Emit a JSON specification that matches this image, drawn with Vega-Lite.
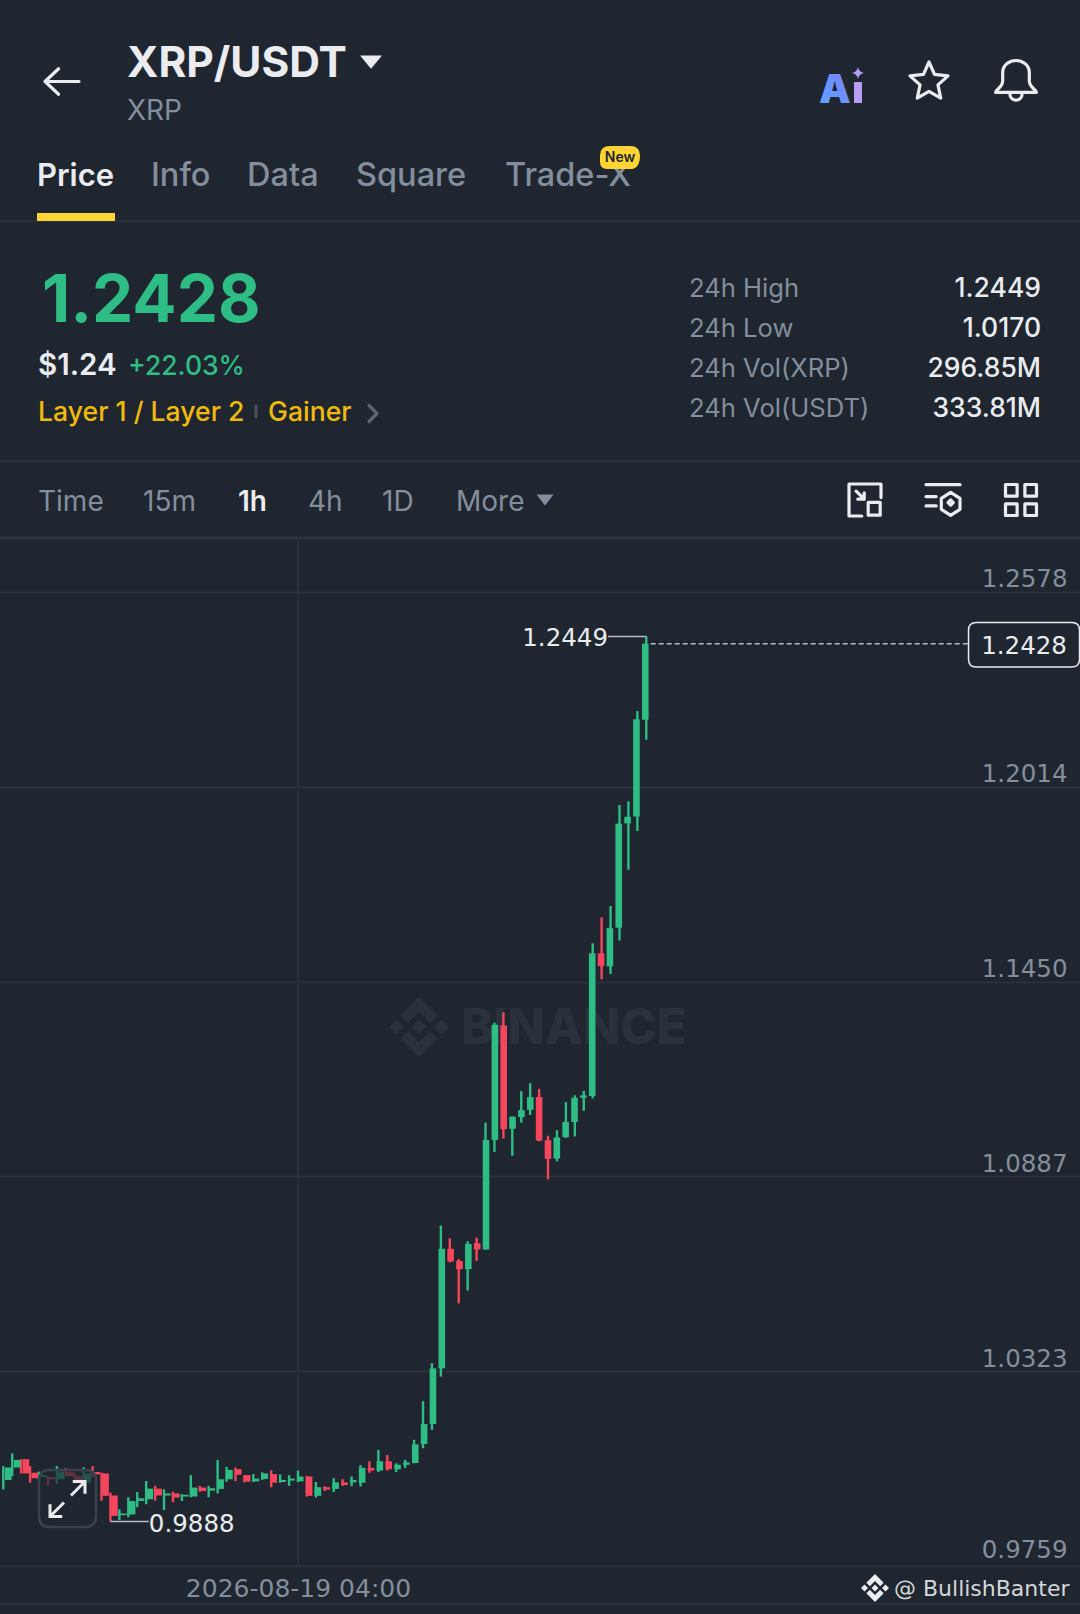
{
  "$schema": "https://vega.github.io/schema/vega-lite/v6.json",
  "width": 1080,
  "height": 1614,
  "padding": 0,
  "autosize": {"type": "none"},
  "background": "#1f2630",
  "config": {"view": {"stroke": null}},
  "resolve": {"scale": {"x": "independent", "y": "independent", "color": "independent", "size": "independent", "shape": "independent"}, "axis": {"x": "independent", "y": "independent"}},
  "datasets": {
    "candles": [
      {"t":"2026-08-17T19:00:00Z","open":1.0008,"high":1.0048,"low":0.9981,"close":1.0044},
      {"t":"2026-08-17T20:00:00Z","open":1.0044,"high":1.0085,"low":1.0019,"close":1.0066},
      {"t":"2026-08-17T21:00:00Z","open":1.0068,"high":1.0068,"low":1.0027,"close":1.0027},
      {"t":"2026-08-17T22:00:00Z","open":1.0029,"high":1.0048,"low":1.0000,"close":1.0013},
      {"t":"2026-08-17T23:00:00Z","open":1.0016,"high":1.0032,"low":1.0005,"close":1.0022},
      {"t":"2026-08-18T00:00:00Z","open":1.0016,"high":1.0018,"low":0.9993,"close":1.0010},
      {"t":"2026-08-18T01:00:00Z","open":1.0010,"high":1.0048,"low":0.9996,"close":1.0032},
      {"t":"2026-08-18T02:00:00Z","open":1.0032,"high":1.0042,"low":1.0019,"close":1.0019},
      {"t":"2026-08-18T03:00:00Z","open":1.0019,"high":1.0029,"low":0.9998,"close":1.0002},
      {"t":"2026-08-18T04:00:00Z","open":1.0000,"high":1.0045,"low":0.9998,"close":1.0027},
      {"t":"2026-08-18T05:00:00Z","open":1.0031,"high":1.0048,"low":1.0016,"close":1.0024},
      {"t":"2026-08-18T06:00:00Z","open":1.0027,"high":1.0029,"low":0.9948,"close":0.9962},
      {"t":"2026-08-18T07:00:00Z","open":0.9963,"high":0.9971,"low":0.9888,"close":0.9904},
      {"t":"2026-08-18T08:00:00Z","open":0.9906,"high":0.9923,"low":0.9892,"close":0.9911},
      {"t":"2026-08-18T09:00:00Z","open":0.9908,"high":0.9958,"low":0.9900,"close":0.9947},
      {"t":"2026-08-18T10:00:00Z","open":0.9947,"high":0.9973,"low":0.9929,"close":0.9955},
      {"t":"2026-08-18T11:00:00Z","open":0.9952,"high":1.0005,"low":0.9938,"close":0.9983},
      {"t":"2026-08-18T12:00:00Z","open":0.9983,"high":0.9991,"low":0.9948,"close":0.9963},
      {"t":"2026-08-18T13:00:00Z","open":0.9963,"high":0.9981,"low":0.9921,"close":0.9969},
      {"t":"2026-08-18T14:00:00Z","open":0.9969,"high":0.9974,"low":0.9944,"close":0.9957},
      {"t":"2026-08-18T15:00:00Z","open":0.9960,"high":0.9967,"low":0.9947,"close":0.9965},
      {"t":"2026-08-18T16:00:00Z","open":0.9960,"high":1.0022,"low":0.9958,"close":0.9986},
      {"t":"2026-08-18T17:00:00Z","open":0.9986,"high":0.9991,"low":0.9974,"close":0.9976},
      {"t":"2026-08-18T18:00:00Z","open":0.9977,"high":0.9991,"low":0.9958,"close":0.9984},
      {"t":"2026-08-18T19:00:00Z","open":0.9982,"high":1.0066,"low":0.9969,"close":1.0010},
      {"t":"2026-08-18T20:00:00Z","open":1.0010,"high":1.0046,"low":1.0003,"close":1.0037},
      {"t":"2026-08-18T21:00:00Z","open":1.0039,"high":1.0044,"low":1.0005,"close":1.0023},
      {"t":"2026-08-18T22:00:00Z","open":1.0022,"high":1.0022,"low":1.0001,"close":1.0003},
      {"t":"2026-08-18T23:00:00Z","open":1.0004,"high":1.0025,"low":1.0002,"close":1.0012},
      {"t":"2026-08-19T00:00:00Z","open":1.0011,"high":1.0030,"low":1.0008,"close":1.0027},
      {"t":"2026-08-19T01:00:00Z","open":1.0025,"high":1.0036,"low":0.9987,"close":1.0000},
      {"t":"2026-08-19T02:00:00Z","open":1.0002,"high":1.0024,"low":1.0000,"close":1.0008},
      {"t":"2026-08-19T03:00:00Z","open":1.0006,"high":1.0022,"low":0.9991,"close":1.0012},
      {"t":"2026-08-19T04:00:00Z","open":1.0004,"high":1.0035,"low":1.0002,"close":1.0018},
      {"t":"2026-08-19T05:00:00Z","open":1.0018,"high":1.0020,"low":0.9960,"close":0.9962},
      {"t":"2026-08-19T06:00:00Z","open":0.9962,"high":1.0002,"low":0.9957,"close":0.9987},
      {"t":"2026-08-19T07:00:00Z","open":0.9987,"high":0.9990,"low":0.9976,"close":0.9980},
      {"t":"2026-08-19T08:00:00Z","open":0.9982,"high":1.0013,"low":0.9973,"close":1.0001},
      {"t":"2026-08-19T09:00:00Z","open":1.0001,"high":1.0010,"low":0.9991,"close":0.9993},
      {"t":"2026-08-19T10:00:00Z","open":1.0001,"high":1.0018,"low":0.9990,"close":1.0008},
      {"t":"2026-08-19T11:00:00Z","open":1.0000,"high":1.0051,"low":0.9989,"close":1.0043},
      {"t":"2026-08-19T12:00:00Z","open":1.0043,"high":1.0062,"low":1.0029,"close":1.0035},
      {"t":"2026-08-19T13:00:00Z","open":1.0035,"high":1.0095,"low":1.0031,"close":1.0062},
      {"t":"2026-08-19T14:00:00Z","open":1.0062,"high":1.0080,"low":1.0035,"close":1.0039},
      {"t":"2026-08-19T15:00:00Z","open":1.0039,"high":1.0056,"low":1.0031,"close":1.0052},
      {"t":"2026-08-19T16:00:00Z","open":1.0052,"high":1.0066,"low":1.0043,"close":1.0059},
      {"t":"2026-08-19T17:00:00Z","open":1.0057,"high":1.0124,"low":1.0056,"close":1.0111},
      {"t":"2026-08-19T18:00:00Z","open":1.0112,"high":1.0236,"low":1.0100,"close":1.0170},
      {"t":"2026-08-19T19:00:00Z","open":1.0170,"high":1.0346,"low":1.0153,"close":1.0331},
      {"t":"2026-08-19T20:00:00Z","open":1.0331,"high":1.0744,"low":1.0307,"close":1.0677},
      {"t":"2026-08-19T21:00:00Z","open":1.0677,"high":1.0707,"low":1.0638,"close":1.0640},
      {"t":"2026-08-19T22:00:00Z","open":1.0642,"high":1.0647,"low":1.0519,"close":1.0618},
      {"t":"2026-08-19T23:00:00Z","open":1.0618,"high":1.0699,"low":1.0556,"close":1.0691},
      {"t":"2026-08-20T00:00:00Z","open":1.0693,"high":1.0709,"low":1.0642,"close":1.0675},
      {"t":"2026-08-20T01:00:00Z","open":1.0675,"high":1.1042,"low":1.0674,"close":1.0992},
      {"t":"2026-08-20T02:00:00Z","open":1.0992,"high":1.1331,"low":1.0957,"close":1.1325},
      {"t":"2026-08-20T03:00:00Z","open":1.1323,"high":1.1361,"low":1.0996,"close":1.1023},
      {"t":"2026-08-20T04:00:00Z","open":1.1024,"high":1.1060,"low":1.0946,"close":1.1059},
      {"t":"2026-08-20T05:00:00Z","open":1.1058,"high":1.1133,"low":1.1042,"close":1.1078},
      {"t":"2026-08-20T06:00:00Z","open":1.1079,"high":1.1156,"low":1.1064,"close":1.1116},
      {"t":"2026-08-20T07:00:00Z","open":1.1116,"high":1.1140,"low":1.0988,"close":1.0990},
      {"t":"2026-08-20T08:00:00Z","open":1.0991,"high":1.1004,"low":1.0878,"close":1.0937},
      {"t":"2026-08-20T09:00:00Z","open":1.0938,"high":1.1020,"low":1.0930,"close":1.0999},
      {"t":"2026-08-20T10:00:00Z","open":1.1000,"high":1.1101,"low":1.0998,"close":1.1044},
      {"t":"2026-08-20T11:00:00Z","open":1.1044,"high":1.1121,"low":1.1002,"close":1.1114},
      {"t":"2026-08-20T12:00:00Z","open":1.1114,"high":1.1134,"low":1.1076,"close":1.1121},
      {"t":"2026-08-20T13:00:00Z","open":1.1119,"high":1.1561,"low":1.1112,"close":1.1532},
      {"t":"2026-08-20T14:00:00Z","open":1.1532,"high":1.1636,"low":1.1457,"close":1.1495},
      {"t":"2026-08-20T15:00:00Z","open":1.1494,"high":1.1669,"low":1.1472,"close":1.1605},
      {"t":"2026-08-20T16:00:00Z","open":1.1606,"high":1.1961,"low":1.1569,"close":1.1907},
      {"t":"2026-08-20T17:00:00Z","open":1.1908,"high":1.1972,"low":1.1774,"close":1.1927},
      {"t":"2026-08-20T18:00:00Z","open":1.1928,"high":1.2233,"low":1.1886,"close":1.2209},
      {"t":"2026-08-20T19:00:00Z","open":1.2208,"high":1.2449,"low":1.2150,"close":1.2428}
    ]
  },
  "layer": [
    {
      "data": {"values": [{"t": "2026-08-19T04:00:00Z", "a": 0.9759, "b": 1.2728}]},
      "mark": {"type": "rule", "color": "#2d343f", "strokeWidth": 1.5},
      "encoding": {
        "x": {"field": "t", "type": "temporal", "title": null,
          "scale": {"type": "utc", "domain": ["2026-08-17T18:38:00Z", "2026-08-22T19:34:00Z"], "range": [0, 1080], "nice": false},
          "axis": {"orient": "bottom", "values": [{"year": 2026, "month": 8, "date": 19, "hours": 4, "utc": true}], "labelExpr": "utcFormat(datum.value, '%Y-%m-%d %H:%M')", "grid": false, "ticks": false, "domain": false, "labelFont": "DejaVu Sans", "labelFontSize": 25, "labelColor": "#848e9c", "labelBaseline": "middle", "labelPadding": -26, "labelLimit": 400, "labelBound": false, "labelFlush": false, "labelOverlap": false}},
        "y": {"field": "a", "type": "quantitative", "title": null,
          "scale": {"domain": [0.9759, 1.2728], "range": [1566, 540], "nice": false},
          "axis": {"orient": "right", "values": [1.2578, 1.2014, 1.145, 1.0887, 1.0323, 0.9759], "format": ".4f", "grid": true, "gridColor": "#2d343f", "gridWidth": 1.5, "ticks": false, "domain": false, "labelFont": "DejaVu Sans", "labelFontSize": 24.5, "labelColor": "#848e9c", "labelAlign": "right", "labelBaseline": "middle", "labelPadding": -13, "labelOffset": {"condition": {"test": "datum.value < 1", "value": -16}, "value": -12}, "labelBound": false, "labelFlush": false, "labelOverlap": false}},
        "y2": {"field": "b"}
      }
    },
    {
      "data": {"values": [{"n": 0, "label": "BINANCE"}]},
      "mark": {"type": "text", "font": "Inter", "fontSize": 49, "fontWeight": 800, "color": "#2a313c", "align": "left", "baseline": "alphabetic"},
      "encoding": {
        "text": {"field": "label"},
        "x": {"field": "n", "type": "quantitative", "axis": null, "scale": {"domain": [0, 1], "range": [461, 462]}},
        "y": {"field": "n", "type": "quantitative", "axis": null, "scale": {"domain": [0, 1], "range": [1044, 1045]}}
      }
    },
    {
      "data": {"values": [{"n": 0}]},
      "mark": {"type": "point", "filled": true, "opacity": 1, "color": "#2a313c", "size": 3600, "shape": "M0,-.25L.25,0L0,.25L-.25,0ZM-1,0L-.75,-.25L-.5,0L-.75,.25ZM1,0L.75,-.25L.5,0L.75,.25ZM0,-1L.62,-.38L.37,-.13L0,-.5L-.37,-.13L-.62,-.38ZM0,1L.62,.38L.37,.13L0,.5L-.37,.13L-.62,.38Z"},
      "encoding": {
        "x": {"field": "n", "type": "quantitative", "axis": null, "scale": {"domain": [0, 1], "range": [419, 420]}},
        "y": {"field": "n", "type": "quantitative", "axis": null, "scale": {"domain": [0, 1], "range": [1027, 1028]}}
      }
    },
    {
      "data": {"name": "candles"},
      "mark": {"type": "rule", "strokeWidth": 2.4},
      "encoding": {
        "x": {"field": "t", "type": "temporal", "axis": null, "scale": {"type": "utc", "domain": ["2026-08-17T18:38:00Z", "2026-08-22T19:34:00Z"], "range": [0, 1080], "nice": false}},
        "y": {"field": "low", "type": "quantitative", "axis": null, "scale": {"domain": [0.9759, 1.2728], "range": [1566, 540], "nice": false}},
        "y2": {"field": "high"},
        "color": {"condition": {"test": "datum.close >= datum.open", "value": "#2ebd85"}, "value": "#f6465d"}
      }
    },
    {
      "data": {"name": "candles"},
      "mark": {"type": "bar", "size": 6.6},
      "encoding": {
        "x": {"field": "t", "type": "temporal", "axis": null, "scale": {"type": "utc", "domain": ["2026-08-17T18:38:00Z", "2026-08-22T19:34:00Z"], "range": [0, 1080], "nice": false}},
        "y": {"field": "open", "type": "quantitative", "axis": null, "scale": {"domain": [0.9759, 1.2728], "range": [1566, 540], "nice": false}},
        "y2": {"field": "close"},
        "color": {"condition": {"test": "datum.close >= datum.open", "value": "#2ebd85"}, "value": "#f6465d"}
      }
    },
    {
      "data": {"values": [
        {"from": "2026-08-20T14:43:00Z", "to": "2026-08-20T19:00:00Z", "p": 1.2449},
        {"from": "2026-08-18T07:00:00Z", "to": "2026-08-18T11:18:00Z", "p": 0.9888}
      ]},
      "mark": {"type": "rule", "color": "#b7bdc6", "strokeWidth": 1.5},
      "encoding": {
        "x": {"field": "from", "type": "temporal", "axis": null, "scale": {"type": "utc", "domain": ["2026-08-17T18:38:00Z", "2026-08-22T19:34:00Z"], "range": [0, 1080], "nice": false}},
        "x2": {"field": "to"},
        "y": {"field": "p", "type": "quantitative", "axis": null, "scale": {"domain": [0.9759, 1.2728], "range": [1566, 540], "nice": false}}
      }
    },
    {
      "data": {"values": [{"from": "2026-08-20T19:30:00Z", "to": "2026-08-22T07:08:00Z", "p": 1.2428}]},
      "mark": {"type": "rule", "color": "#b7bdc6", "strokeWidth": 1.5, "strokeDash": [5, 3]},
      "encoding": {
        "x": {"field": "from", "type": "temporal", "axis": null, "scale": {"type": "utc", "domain": ["2026-08-17T18:38:00Z", "2026-08-22T19:34:00Z"], "range": [0, 1080], "nice": false}},
        "x2": {"field": "to"},
        "y": {"field": "p", "type": "quantitative", "axis": null, "scale": {"domain": [0.9759, 1.2728], "range": [1566, 540], "nice": false}}
      }
    },
    {
      "data": {"values": [{"t": "2026-08-22T13:18:00Z", "p": 1.2425}]},
      "mark": {"type": "point", "filled": true, "opacity": 1, "fill": "#1f2630", "stroke": "#eaecef", "strokeWidth": 1.5, "size": 12321, "shape": "M-.86,-.4H.86Q1,-.4 1,-.26V.26Q1,.4 .86,.4H-.86Q-1,.4 -1,.26V-.26Q-1,-.4 -.86,-.4Z"},
      "encoding": {
        "x": {"field": "t", "type": "temporal", "axis": null, "scale": {"type": "utc", "domain": ["2026-08-17T18:38:00Z", "2026-08-22T19:34:00Z"], "range": [0, 1080], "nice": false}},
        "y": {"field": "p", "type": "quantitative", "axis": null, "scale": {"domain": [0.9759, 1.2728], "range": [1566, 540], "nice": false}}
      }
    },
    {
      "data": {"values": [{"t": "2026-08-22T13:18:00Z", "p": 1.2428}]},
      "mark": {"type": "text", "font": "DejaVu Sans", "fontSize": 24.5, "color": "#eaecef", "align": "center", "baseline": "middle", "dy": 3},
      "encoding": {
        "text": {"field": "p", "format": ".4f"},
        "x": {"field": "t", "type": "temporal", "axis": null, "scale": {"type": "utc", "domain": ["2026-08-17T18:38:00Z", "2026-08-22T19:34:00Z"], "range": [0, 1080], "nice": false}},
        "y": {"field": "p", "type": "quantitative", "axis": null, "scale": {"domain": [0.9759, 1.2728], "range": [1566, 540], "nice": false}}
      }
    },
    {
      "data": {"values": [{"t": "2026-08-20T14:43:00Z", "p": 1.2449}]},
      "mark": {"type": "text", "font": "DejaVu Sans", "fontSize": 24.5, "color": "#eaecef", "align": "right", "baseline": "middle", "dy": 3},
      "encoding": {
        "text": {"field": "p", "format": ".4f"},
        "x": {"field": "t", "type": "temporal", "axis": null, "scale": {"type": "utc", "domain": ["2026-08-17T18:38:00Z", "2026-08-22T19:34:00Z"], "range": [0, 1080], "nice": false}},
        "y": {"field": "p", "type": "quantitative", "axis": null, "scale": {"domain": [0.9759, 1.2728], "range": [1566, 540], "nice": false}}
      }
    },
    {
      "data": {"values": [{"t": "2026-08-18T11:18:00Z", "p": 0.9888}]},
      "mark": {"type": "text", "font": "DejaVu Sans", "fontSize": 24.5, "color": "#eaecef", "align": "left", "baseline": "middle", "dy": 4},
      "encoding": {
        "text": {"field": "p", "format": ".4f"},
        "x": {"field": "t", "type": "temporal", "axis": null, "scale": {"type": "utc", "domain": ["2026-08-17T18:38:00Z", "2026-08-22T19:34:00Z"], "range": [0, 1080], "nice": false}},
        "y": {"field": "p", "type": "quantitative", "axis": null, "scale": {"domain": [0.9759, 1.2728], "range": [1566, 540], "nice": false}}
      }
    },
    {
      "data": {"values": [{"n": 0}]},
      "mark": {"type": "point", "filled": true, "opacity": 1, "fill": "#1f2630", "fillOpacity": 0.7, "stroke": "#3a414d", "strokeWidth": 2.5, "size": 3249, "shape": "M-.62,-1H.62Q1,-1 1,-.62V.62Q1,1 .62,1H-.62Q-1,1 -1,.62V-.62Q-1,-1 -.62,-1Z"},
      "encoding": {
        "x": {"field": "n", "type": "quantitative", "axis": null, "scale": {"domain": [0, 1], "range": [67.5, 68.5]}},
        "y": {"field": "n", "type": "quantitative", "axis": null, "scale": {"domain": [0, 1], "range": [1498.5, 1499.5]}}
      }
    },
    {
      "data": {"values": [{"n": 0}]},
      "mark": {"type": "point", "filled": false, "opacity": 1, "stroke": "#eaecef", "strokeWidth": 3, "size": 1225, "shape": "M.2,-.2L1,-1M.3,-1L1,-1L1,-.3M-.2,.2L-1,1M-1,.3L-1,1L-.3,1"},
      "encoding": {
        "x": {"field": "n", "type": "quantitative", "axis": null, "scale": {"domain": [0, 1], "range": [67.5, 68.5]}},
        "y": {"field": "n", "type": "quantitative", "axis": null, "scale": {"domain": [0, 1], "range": [1499, 1500]}}
      }
    },
    {
      "data": {"values": [{"n": 0}, {"n": 1}, {"n": 2}, {"n": 3}]},
      "mark": {"type": "rule", "color": "#2d343f"},
      "encoding": {
        "y": {"field": "n", "type": "quantitative", "axis": null, "scale": {"domain": [0, 1, 2, 3], "range": [221, 461, 538, 1604]}},
        "size": {"field": "n", "type": "quantitative", "legend": null, "scale": {"domain": [0, 1, 2, 3], "range": [1.5, 1.5, 3, 1.5]}}
      }
    },
    {
      "data": {"values": [{"n": 0, "label": "XRP/USDT"}]},
      "mark": {"type": "text", "font": "Inter", "fontSize": 42.5, "fontWeight": 700, "color": "#eaecef", "align": "left", "baseline": "alphabetic"},
      "encoding": {
        "text": {"field": "label"},
        "x": {"field": "n", "type": "quantitative", "axis": null, "scale": {"domain": [0, 1], "range": [127, 128]}},
        "y": {"field": "n", "type": "quantitative", "axis": null, "scale": {"domain": [0, 1], "range": [77, 78]}}
      }
    },
    {
      "data": {"values": [{"n": 0, "label": "XRP"}]},
      "mark": {"type": "text", "font": "Inter", "fontSize": 28, "fontWeight": 400, "color": "#848e9c", "align": "left", "baseline": "alphabetic"},
      "encoding": {
        "text": {"field": "label"},
        "x": {"field": "n", "type": "quantitative", "axis": null, "scale": {"domain": [0, 1], "range": [127, 128]}},
        "y": {"field": "n", "type": "quantitative", "axis": null, "scale": {"domain": [0, 1], "range": [120, 121]}}
      }
    },
    {
      "data": {"values": [{"n": 0, "label": "Price"}]},
      "mark": {"type": "text", "font": "Inter", "fontSize": 31, "fontWeight": 600, "color": "#eaecef", "align": "left", "baseline": "alphabetic"},
      "encoding": {
        "text": {"field": "label"},
        "x": {"field": "n", "type": "quantitative", "axis": null, "scale": {"domain": [0, 1], "range": [37, 38]}},
        "y": {"field": "n", "type": "quantitative", "axis": null, "scale": {"domain": [0, 1], "range": [186, 187]}}
      }
    },
    {
      "data": {"values": [{"n": 0, "label": "Info"}, {"n": 1, "label": "Data"}, {"n": 2, "label": "Square"}, {"n": 3, "label": "Trade-X"}]},
      "mark": {"type": "text", "font": "Inter", "fontSize": 32.5, "fontWeight": 500, "color": "#848e9c", "align": "left", "baseline": "alphabetic"},
      "encoding": {
        "text": {"field": "label"},
        "x": {"field": "n", "type": "quantitative", "axis": null, "scale": {"domain": [0, 1, 2, 3], "range": [151, 247, 356, 505]}},
        "y": {"field": "n", "type": "quantitative", "axis": null, "scale": {"domain": [0, 3], "range": [186, 186]}}
      }
    },
    {
      "data": {"values": [{"n": 0, "label": "1.2428"}]},
      "mark": {"type": "text", "font": "Inter", "fontSize": 65.5, "fontWeight": 700, "color": "#2ebd85", "align": "left", "baseline": "alphabetic"},
      "encoding": {
        "text": {"field": "label"},
        "x": {"field": "n", "type": "quantitative", "axis": null, "scale": {"domain": [0, 1], "range": [42, 43]}},
        "y": {"field": "n", "type": "quantitative", "axis": null, "scale": {"domain": [0, 1], "range": [322, 323]}}
      }
    },
    {
      "data": {"values": [{"n": 0, "label": "$1.24"}]},
      "mark": {"type": "text", "font": "Inter", "fontSize": 29.5, "fontWeight": 600, "color": "#eaecef", "align": "left", "baseline": "alphabetic"},
      "encoding": {
        "text": {"field": "label"},
        "x": {"field": "n", "type": "quantitative", "axis": null, "scale": {"domain": [0, 1], "range": [38, 39]}},
        "y": {"field": "n", "type": "quantitative", "axis": null, "scale": {"domain": [0, 1], "range": [375, 376]}}
      }
    },
    {
      "data": {"values": [{"n": 0, "label": "+22.03%"}]},
      "mark": {"type": "text", "font": "Inter", "fontSize": 26.5, "fontWeight": 500, "color": "#2ebd85", "align": "left", "baseline": "alphabetic"},
      "encoding": {
        "text": {"field": "label"},
        "x": {"field": "n", "type": "quantitative", "axis": null, "scale": {"domain": [0, 1], "range": [128, 129]}},
        "y": {"field": "n", "type": "quantitative", "axis": null, "scale": {"domain": [0, 1], "range": [375, 376]}}
      }
    },
    {
      "data": {"values": [{"n": 0, "label": "Layer 1 / Layer 2"}, {"n": 1, "label": "Gainer"}]},
      "mark": {"type": "text", "font": "Inter", "fontSize": 26.6, "fontWeight": 500, "color": "#f0b90b", "align": "left", "baseline": "alphabetic"},
      "encoding": {
        "text": {"field": "label"},
        "x": {"field": "n", "type": "quantitative", "axis": null, "scale": {"domain": [0, 1], "range": [38, 268]}},
        "y": {"field": "n", "type": "quantitative", "axis": null, "scale": {"domain": [0, 1], "range": [421, 421]}}
      }
    },
    {
      "data": {"values": [{"n": 0, "label": "24h High"}, {"n": 1, "label": "24h Low"}, {"n": 2, "label": "24h Vol(XRP)"}, {"n": 3, "label": "24h Vol(USDT)"}]},
      "mark": {"type": "text", "font": "Inter", "fontSize": 25.6, "fontWeight": 400, "color": "#848e9c", "align": "left", "baseline": "alphabetic"},
      "encoding": {
        "text": {"field": "label"},
        "x": {"field": "n", "type": "quantitative", "axis": null, "scale": {"domain": [0, 3], "range": [689, 689]}},
        "y": {"field": "n", "type": "quantitative", "axis": null, "scale": {"domain": [0, 3], "range": [297, 417]}}
      }
    },
    {
      "data": {"values": [{"n": 0, "label": "1.2449"}, {"n": 1, "label": "1.0170"}, {"n": 2, "label": "296.85M"}, {"n": 3, "label": "333.81M"}]},
      "mark": {"type": "text", "font": "Inter", "fontSize": 26.5, "fontWeight": 500, "color": "#eaecef", "align": "right", "baseline": "alphabetic"},
      "encoding": {
        "text": {"field": "label"},
        "x": {"field": "n", "type": "quantitative", "axis": null, "scale": {"domain": [0, 3], "range": [1041, 1041]}},
        "y": {"field": "n", "type": "quantitative", "axis": null, "scale": {"domain": [0, 3], "range": [297, 417]}}
      }
    },
    {
      "data": {"values": [{"n": 0, "label": "Time"}, {"n": 1, "label": "15m"}, {"n": 2, "label": "4h"}, {"n": 3, "label": "1D"}, {"n": 4, "label": "More"}]},
      "mark": {"type": "text", "font": "Inter", "fontSize": 28, "fontWeight": 400, "color": "#848e9c", "align": "left", "baseline": "alphabetic"},
      "encoding": {
        "text": {"field": "label"},
        "x": {"field": "n", "type": "quantitative", "axis": null, "scale": {"domain": [0, 1, 2, 3, 4], "range": [38, 143, 308, 382, 456]}},
        "y": {"field": "n", "type": "quantitative", "axis": null, "scale": {"domain": [0, 4], "range": [511, 511]}}
      }
    },
    {
      "data": {"values": [{"n": 0, "label": "1h"}]},
      "mark": {"type": "text", "font": "Inter", "fontSize": 28, "fontWeight": 600, "color": "#eaecef", "align": "left", "baseline": "alphabetic"},
      "encoding": {
        "text": {"field": "label"},
        "x": {"field": "n", "type": "quantitative", "axis": null, "scale": {"domain": [0, 1], "range": [238, 239]}},
        "y": {"field": "n", "type": "quantitative", "axis": null, "scale": {"domain": [0, 1], "range": [511, 512]}}
      }
    },
    {
      "data": {"values": [{"n": 0, "label": "@ BullishBanter"}]},
      "mark": {"type": "text", "font": "DejaVu Sans", "fontSize": 22, "color": "#d5d7da", "align": "left", "baseline": "alphabetic"},
      "encoding": {
        "text": {"field": "label"},
        "x": {"field": "n", "type": "quantitative", "axis": null, "scale": {"domain": [0, 1], "range": [894, 895]}},
        "y": {"field": "n", "type": "quantitative", "axis": null, "scale": {"domain": [0, 1], "range": [1596, 1597]}}
      }
    },
    {
      "data": {"values": [{"n": 0, "label": "A"}]},
      "mark": {"type": "text", "font": "Inter", "fontSize": 40, "fontWeight": 900, "align": "left", "baseline": "alphabetic",
        "color": {"gradient": "linear", "x1": 0, "y1": 1, "x2": 1, "y2": 0, "stops": [{"offset": 0, "color": "#5ea7ff"}, {"offset": 1, "color": "#7a7dff"}]}},
      "encoding": {
        "text": {"field": "label"},
        "x": {"field": "n", "type": "quantitative", "axis": null, "scale": {"domain": [0, 1], "range": [819, 820]}},
        "y": {"field": "n", "type": "quantitative", "axis": null, "scale": {"domain": [0, 1], "range": [103, 104]}}
      }
    },
    {
      "data": {"values": [
        {"n": 0, "icon": "caret"}, {"n": 1, "icon": "more"}, {"n": 2, "icon": "bar"}, {"n": 3, "icon": "badge"},
        {"n": 4, "icon": "logo"}, {"n": 5, "icon": "spark"}, {"n": 6, "icon": "stem"}
      ]},
      "mark": {"type": "point", "filled": true, "opacity": 1},
      "encoding": {
        "x": {"field": "n", "type": "quantitative", "axis": null, "scale": {"domain": [0, 1, 2, 3, 4, 5, 6], "range": [371, 545, 76, 620, 875, 858, 858]}},
        "y": {"field": "n", "type": "quantitative", "axis": null, "scale": {"domain": [0, 1, 2, 3, 4, 5, 6], "range": [61.5, 499.5, 217, 157.5, 1588, 73, 92.5]}},
        "size": {"field": "n", "type": "quantitative", "legend": null, "scale": {"domain": [0, 1, 2, 3, 4, 5, 6], "range": [484, 289, 6084, 1600, 784, 144, 441]}},
        "shape": {"field": "icon", "type": "nominal", "legend": null, "scale": {
          "domain": ["caret", "more", "bar", "badge", "logo", "spark", "stem"],
          "range": [
            "M-1,-.55H1L0,.65Z",
            "M-1,-.6H1L0,.7Z",
            "M-1,-.1H1V.1H-1Z",
            "M-.5,-.58H.5Q1,-.58 1,-.1Q1,.58 .5,.58H-.65Q-1,.58 -1,.2V-.1Q-1,-.58 -.5,-.58Z",
            "M0,-.25L.25,0L0,.25L-.25,0ZM-1,0L-.75,-.25L-.5,0L-.75,.25ZM1,0L.75,-.25L.5,0L.75,.25ZM0,-1L.62,-.38L.37,-.13L0,-.5L-.37,-.13L-.62,-.38ZM0,1L.62,.38L.37,.13L0,.5L-.37,.13L-.62,.38Z",
            "M0,-1Q.15,-.15 1,0Q.15,.15 0,1Q-.15,.15 -1,0Q-.15,-.15 0,-1Z",
            "M-.38,-1H.38V1H-.38Z"
          ]}},
        "color": {"field": "icon", "type": "nominal", "legend": null, "scale": {
          "domain": ["caret", "more", "bar", "badge", "logo", "spark", "stem"],
          "range": ["#eaecef", "#848e9c", "#fcd535", "#fcd535", "#eaecef", "#b39ef8", "#b79ef5"]}}
      }
    },
    {
      "data": {"values": [{"n": 0, "label": "New"}]},
      "mark": {"type": "text", "font": "Inter", "fontSize": 14, "fontWeight": 600, "color": "#1e2329", "align": "center", "baseline": "middle"},
      "encoding": {
        "text": {"field": "label"},
        "x": {"field": "n", "type": "quantitative", "axis": null, "scale": {"domain": [0, 1], "range": [620, 621]}},
        "y": {"field": "n", "type": "quantitative", "axis": null, "scale": {"domain": [0, 1], "range": [158, 159]}}
      }
    },
    {
      "data": {"values": [
        {"n": 0, "icon": "back"}, {"n": 1, "icon": "star"}, {"n": 2, "icon": "bell"}, {"n": 3, "icon": "resize"},
        {"n": 4, "icon": "settings"}, {"n": 5, "icon": "grid"}, {"n": 6, "icon": "chevron"}, {"n": 7, "icon": "sep"}
      ]},
      "mark": {"type": "point", "filled": false, "opacity": 1, "strokeWidth": 3.2, "strokeJoin": "round", "strokeCap": "round"},
      "encoding": {
        "x": {"field": "n", "type": "quantitative", "axis": null, "scale": {"domain": [0, 1, 2, 3, 4, 5, 6, 7], "range": [62, 929, 1016, 865, 943, 1021, 373, 256]}},
        "y": {"field": "n", "type": "quantitative", "axis": null, "scale": {"domain": [0, 1, 2, 3, 4, 5, 6, 7], "range": [81.5, 82, 81, 500, 500, 500, 413.5, 411.5]}},
        "size": {"field": "n", "type": "quantitative", "legend": null, "scale": {"domain": [0, 1, 2, 3, 4, 5, 6, 7], "range": [1156, 1600, 1681, 1024, 1156, 961, 256, 121]}},
        "shape": {"field": "icon", "type": "nominal", "legend": null, "scale": {
          "domain": ["back", "star", "bell", "resize", "settings", "grid", "chevron", "sep"],
          "range": [
            "M1,0L-1,0M-.2,-.75L-1,0L-.2,.75",
            "M0,-1L.276,-.38L.951,-.309L.447,.145L.588,.809L0,.47L-.588,.809L-.447,.145L-.951,-.309L-.276,-.38Z",
            "M-1,.55C-1,.45 -.65,.3 -.65,0L-.65,-.4C-.65,-.8 -.3,-1 0,-1C.3,-1 .65,-.8 .65,-.4L.65,0C.65,.3 1,.45 1,.55ZM-.3,.6C-.3,1.05 .3,1.05 .3,.6",
            "M1,-.15L1,-1L-1,-1L-1,1L-.2,1M.2,.15L.95,.15L.95,.95L.2,.95ZM-.55,-.55L-.05,-.05M-.05,-.45L-.05,-.05L-.45,-.05",
            "M-1,-.9L1,-.9M-1,-.2L-.4,-.2M-1,.35L-.4,.35M.45,-.45L1,-.1L1,.55L.45,.9L-.1,.55L-.1,-.1ZM.45,0L.6,.15L.45,.3L.3,.15Z",
            "M-1,-1H-.25V-.25H-1ZM.25,-1H1V-.25H.25ZM-1,.25H-.25V1H-1ZM.25,.25H1V1H.25Z",
            "M-.5,-1L.5,0L-.5,1",
            "M0,-1L0,1"
          ]}},
        "color": {"field": "icon", "type": "nominal", "legend": null, "scale": {
          "domain": ["back", "star", "bell", "resize", "settings", "grid", "chevron", "sep"],
          "range": ["#eaecef", "#eaecef", "#eaecef", "#eaecef", "#eaecef", "#eaecef", "#5e6673", "#474d57"]}}
      }
    }
  ]
}
